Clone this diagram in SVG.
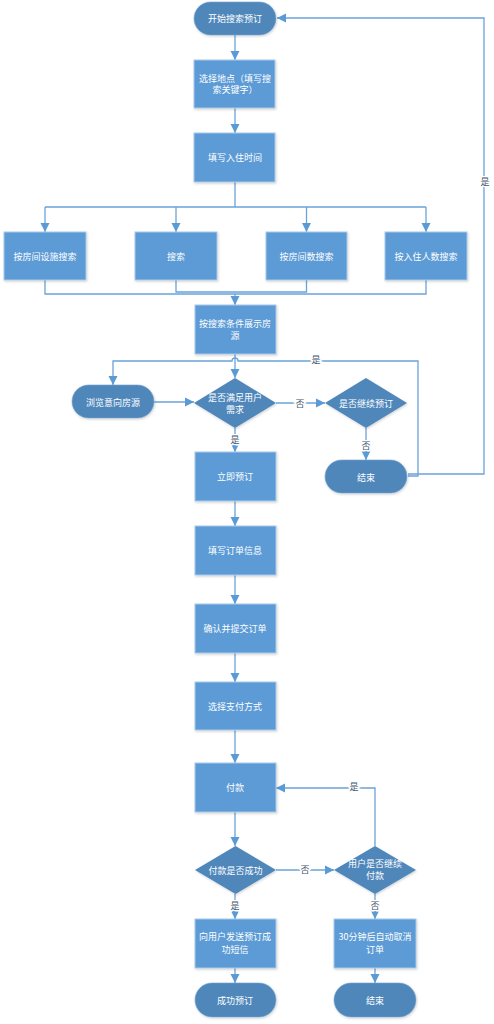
<svg xmlns="http://www.w3.org/2000/svg" width="494" height="1024" viewBox="0 0 494 1024">
<defs>
<marker id="ah" markerUnits="userSpaceOnUse" markerWidth="10" markerHeight="10" viewBox="0 0 10 10" refX="9" refY="5" orient="auto">
<path d="M0,0.5 L9,5 L0,9.5 Z" fill="#5b9bd5"/>
</marker>
<filter id="sh" x="-10%" y="-10%" width="130%" height="140%">
<feDropShadow dx="0.8" dy="1.2" stdDeviation="1" flood-color="#000" flood-opacity="0.18"/>
</filter>
</defs>
<style>
.term{fill:#4f87bb;stroke:#7aa6d2;stroke-width:0.6;filter:url(#sh)}
.proc{fill:#5b9bd5;stroke:#a9c9ea;stroke-width:1;filter:url(#sh)}
.dec{fill:#4f87bb;filter:url(#sh)}
.t{font-family:"Noto Sans CJK SC","Liberation Sans",sans-serif;font-size:9px;fill:#ffffff;text-anchor:middle;dominant-baseline:central}
.c{fill:none;stroke:#6aa3d9;stroke-width:1.3}
.a{marker-end:url(#ah)}
.lb{font-family:"Noto Sans CJK SC","Liberation Sans",sans-serif;font-size:9px;fill:#44546a;text-anchor:middle;dominant-baseline:central;stroke:#ffffff;stroke-width:3;paint-order:stroke}
</style>
<rect width="494" height="1024" fill="#ffffff"/>
<g id="connectors">
<path class="c a" d="M235,35 V60"/>
<path class="c a" d="M235,108 V133"/>
<path class="c" d="M235,182 V207 M45,207 H426"/>
<path class="c a" d="M45,207 V232"/>
<path class="c a" d="M176,207 V232"/>
<path class="c a" d="M306.5,207 V232"/>
<path class="c a" d="M426,207 V232"/>
<path class="c" d="M45,280 V294 H426 V280"/>
<path class="c" d="M176,280 V292 H306.5 V280"/>
<path class="c a" d="M235,294 V305"/>
<path class="c a" d="M235,354 V378"/>
<path class="c a" d="M408,476 H418 V361 H238 A3,3 0 0 0 232,361 H113 V385"/>
<text class="lb" x="316" y="359">是</text>
<path class="c a" d="M154,402 H194"/>
<path class="c a" d="M276,403 H325"/>
<text class="lb" x="300" y="403">否</text>
<path class="c a" d="M366,428 V460"/>
<text class="lb" x="366" y="445">否</text>
<path class="c a" d="M408,474 H484 V18 H277"/>
<text class="lb" x="485" y="181">是</text>
<path class="c a" d="M235,428 V452"/>
<text class="lb" x="235" y="439">是</text>
<path class="c a" d="M235,501 V526"/>
<path class="c a" d="M235,575 V604"/>
<path class="c a" d="M235,653 V682"/>
<path class="c a" d="M235,730 V763"/>
<path class="c a" d="M235,812 V846"/>
<path class="c a" d="M276,870 H334"/>
<text class="lb" x="305" y="869">否</text>
<path class="c a" d="M375,846 V788 H276"/>
<text class="lb" x="354" y="786">是</text>
<path class="c a" d="M235,894 V919"/>
<text class="lb" x="235" y="905">是</text>
<path class="c a" d="M375,894 V919"/>
<text class="lb" x="375" y="905">否</text>
<path class="c a" d="M235,968 V983"/>
<path class="c a" d="M375,968 V983"/>
</g>
<g id="start"><rect class="term" x="194" y="2" width="82" height="33" rx="16.5"/><text class="t" x="235" y="18.5">开始搜索预订</text></g>
<g id="selectLocation"><rect class="proc" x="194" y="60" width="81" height="48"/><text class="t" x="235" y="78">选择地点（填写搜</text><text class="t" x="235" y="89.5">索关键字）</text></g>
<g id="fillTime"><rect class="proc" x="194" y="133" width="81" height="49"/><text class="t" x="235" y="157.5">填写入住时间</text></g>
<g id="searchFacility"><rect class="proc" x="4" y="232" width="82" height="48"/><text class="t" x="45" y="256">按房间设施搜索</text></g>
<g id="search"><rect class="proc" x="135" y="232" width="82" height="48"/><text class="t" x="176" y="256">搜索</text></g>
<g id="searchRooms"><rect class="proc" x="266" y="232" width="81" height="48"/><text class="t" x="306.5" y="256">按房间数搜索</text></g>
<g id="searchGuests"><rect class="proc" x="385" y="232" width="82" height="48"/><text class="t" x="426" y="256">按入住人数搜索</text></g>
<g id="showRooms"><rect class="proc" x="195" y="305" width="81" height="49"/><text class="t" x="235" y="323">按搜索条件展示房</text><text class="t" x="235" y="335">源</text></g>
<g id="browse"><rect class="term" x="72" y="385" width="82" height="33" rx="16.5"/><text class="t" x="113" y="402">浏览意向房源</text></g>
<g id="meetNeeds"><path class="dec" d="M235,378 L276,403 L235,428 L194,403 Z"/><text class="t" x="235" y="397">是否满足用户</text><text class="t" x="235" y="409">需求</text></g>
<g id="continueBooking"><path class="dec" d="M366,378 L407,403 L366,428 L325,403 Z"/><text class="t" x="366" y="403">是否继续预订</text></g>
<g id="end1"><rect class="term" x="325" y="460" width="82" height="33" rx="16.5"/><text class="t" x="366" y="477">结束</text></g>
<g id="bookNow"><rect class="proc" x="195" y="452" width="81" height="49"/><text class="t" x="235" y="476.5">立即预订</text></g>
<g id="fillOrder"><rect class="proc" x="195" y="526" width="81" height="49"/><text class="t" x="235" y="550.5">填写订单信息</text></g>
<g id="submitOrder"><rect class="proc" x="195" y="604" width="81" height="49"/><text class="t" x="235" y="628.5">确认并提交订单</text></g>
<g id="payMethod"><rect class="proc" x="195" y="682" width="81" height="48"/><text class="t" x="235" y="706">选择支付方式</text></g>
<g id="pay"><rect class="proc" x="195" y="763" width="81" height="49"/><text class="t" x="235" y="787.5">付款</text></g>
<g id="paySuccess"><path class="dec" d="M235.5,846 L276,870 L235.5,894 L195,870 Z"/><text class="t" x="235.5" y="870">付款是否成功</text></g>
<g id="continuePay"><path class="dec" d="M375,846 L416,870 L375,894 L334,870 Z"/><text class="t" x="375" y="863">用户是否继续</text><text class="t" x="375" y="875">付款</text></g>
<g id="sendSms"><rect class="proc" x="195" y="919" width="81" height="49"/><text class="t" x="235" y="936">向用户发送预订成</text><text class="t" x="235" y="949.5">功短信</text></g>
<g id="autoCancel"><rect class="proc" x="334" y="919" width="82" height="49"/><text class="t" x="375" y="936">30分钟后自动取消</text><text class="t" x="375" y="949.5">订单</text></g>
<g id="bookSuccess"><rect class="term" x="195" y="983" width="81" height="34" rx="17"/><text class="t" x="235" y="1000">成功预订</text></g>
<g id="end2"><rect class="term" x="334" y="983" width="82" height="34" rx="17"/><text class="t" x="375" y="1000">结束</text></g>
</svg>
